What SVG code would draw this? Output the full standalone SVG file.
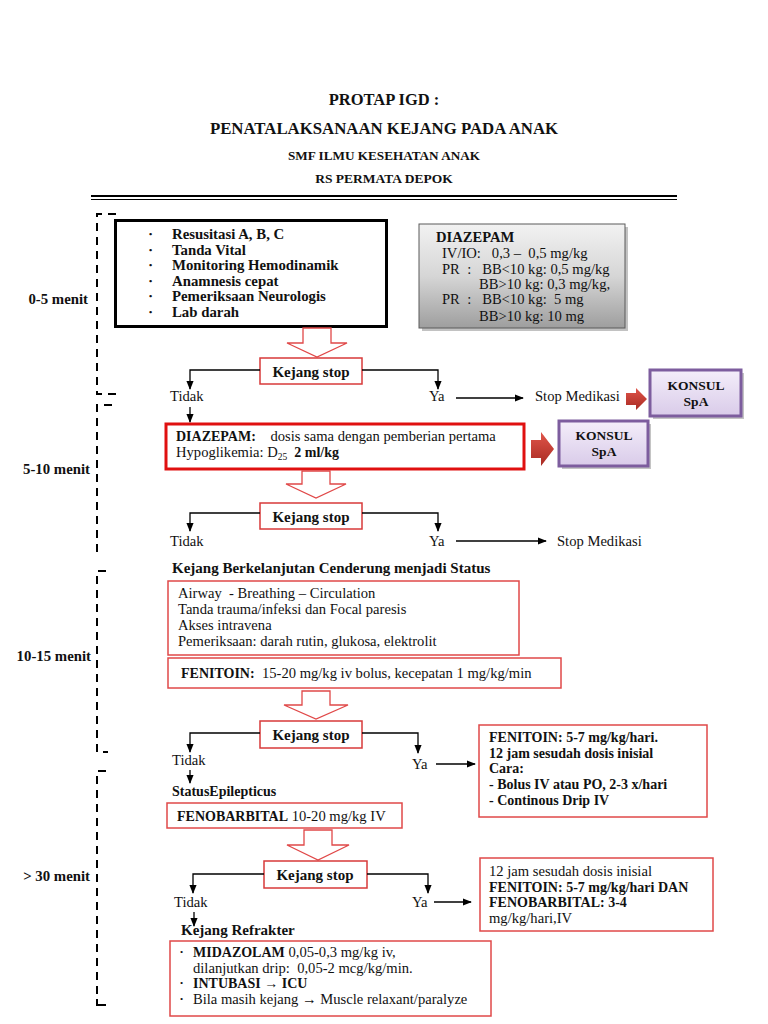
<svg xmlns="http://www.w3.org/2000/svg" width="768" height="1024" viewBox="0 0 768 1024">
<style>
text{font-family:"Liberation Serif","DejaVu Serif",serif;fill:#111;}
.t{font-weight:bold;text-anchor:middle;}
.b{font-weight:bold;}
.r{font-size:14.6px;}
.bd{font-size:14px;font-weight:bold;}
.ksx{font-size:15px;font-weight:bold;text-anchor:middle;}
.lbl{font-size:14.8px;font-weight:bold;text-anchor:end;}
.ln{stroke:#000;stroke-width:1.3;fill:none;}
.dash{stroke:#000;stroke-width:2;fill:none;stroke-dasharray:8,6;}
.hol{fill:#fff;stroke:#e04848;stroke-width:1.3;}
.ks{fill:#fff;stroke:#d83a3a;stroke-width:1.5;}
.rb{fill:#fff;stroke:#e04848;stroke-width:1.5;}
</style>
<defs>
<marker id="ah" viewBox="0 0 10 10" refX="9" refY="5" markerWidth="7" markerHeight="7" orient="auto"><path d="M0,1 L10,5 L0,9 Z" fill="#000"/></marker>
<linearGradient id="gray" x1="0" y1="0" x2="0" y2="1"><stop offset="0" stop-color="#f2f2f2"/><stop offset="0.5" stop-color="#d6d6d6"/><stop offset="1" stop-color="#9e9e9e"/></linearGradient>
<linearGradient id="purp" x1="0" y1="0" x2="0" y2="1"><stop offset="0" stop-color="#f4eefa"/><stop offset="1" stop-color="#d9cbe9"/></linearGradient>
<linearGradient id="red" x1="0" y1="0" x2="0" y2="1"><stop offset="0" stop-color="#e0554a"/><stop offset="1" stop-color="#a82a22"/></linearGradient>
</defs>
<rect width="768" height="1024" fill="#fff"/>

<g id="title">
<text class="t" x="384" y="105" font-size="16.5">PROTAP IGD :</text>
<text class="t" x="384" y="134" font-size="16.8">PENATALAKSANAAN KEJANG PADA ANAK</text>
<text class="t" x="384" y="160" font-size="13.2">SMF ILMU KESEHATAN ANAK</text>
<text class="t" x="384" y="183" font-size="13.5">RS PERMATA DEPOK</text>
<line x1="91" y1="196" x2="677" y2="196" stroke="#000" stroke-width="1.8"/>
<line x1="91" y1="199.5" x2="677" y2="199.5" stroke="#000" stroke-width="1"/>
</g>

<g id="timeline">
<path class="dash" d="M116,214 H97 V394 H116"/>
<path class="dash" d="M112,405 H97 V558"/>
<path class="dash" d="M106,571 H97 V752 H108"/>
<path class="dash" d="M106,771 H97 V998"/>
<path d="M97,999 V1005 H106" stroke="#000" stroke-width="2" fill="none"/>
<text class="lbl" x="88" y="304">0-5 menit</text>
<text class="lbl" x="90" y="474">5-10 menit</text>
<text class="lbl" x="91" y="661">10-15 menit</text>
<text class="lbl" x="90" y="881">&gt; 30 menit</text>
</g>

<g id="box-initial">
<rect x="115.5" y="220.5" width="271" height="106" fill="#fff" stroke="#000" stroke-width="3"/>
<g font-weight="bold" font-size="14.8">
<text x="149" y="237" font-size="9">•</text><text x="172" y="239">Resusitasi A, B, C</text>
<text x="149" y="253" font-size="9">•</text><text x="172" y="255">Tanda Vital</text>
<text x="149" y="268" font-size="9">•</text><text x="172" y="270">Monitoring Hemodinamik</text>
<text x="149" y="284" font-size="9">•</text><text x="172" y="286">Anamnesis cepat</text>
<text x="149" y="299" font-size="9">•</text><text x="172" y="301">Pemeriksaan Neurologis</text>
<text x="149" y="315" font-size="9">•</text><text x="172" y="317">Lab darah</text>
</g>
</g>

<g id="box-diazepam">
<rect x="422" y="227" width="206" height="104" fill="#9a9a9a" opacity="0.6"/>
<rect x="419" y="224" width="206" height="104" fill="url(#gray)" stroke="#5a5a5a" stroke-width="1"/>
<g font-size="14.6">
<text class="b" x="436" y="242">DIAZEPAM</text>
<text x="442" y="258" xml:space="preserve">IV/IO:   0,3 –  0,5 mg/kg</text>
<text x="442" y="274" xml:space="preserve">PR  :   BB&lt;10 kg: 0,5 mg/kg</text>
<text x="479" y="289">BB&gt;10 kg: 0,3 mg/kg,</text>
<text x="442" y="304" xml:space="preserve">PR  :   BB&lt;10 kg:  5 mg</text>
<text x="479" y="321">BB&gt;10 kg: 10 mg</text>
</g>
</g>

<g id="arrow-hollow-1"><path class="hol" d="M303,328 H331 V343 H347 L317,357 L287,343 H303 Z"/></g>
<g id="kejang-stop-1">
<rect class="ks" x="260" y="358" width="102" height="26"/>
<text class="ksx" x="311" y="377">Kejang stop</text>
</g>
<g id="tidak-ya-1" class="r">
<text x="170" y="401">Tidak</text>
<text x="429" y="401">Ya</text>
<text x="535" y="401">Stop Medikasi</text>
</g>
<g id="red-arrow-1"><path d="M626,393 H636 V388 L647,399 L636,410 V405 H626 Z" fill="url(#red)"/></g>
<g id="konsul-1">
<rect x="653" y="373" width="91" height="46" fill="#8a8a8a" opacity="0.5"/>
<rect x="650" y="370" width="91" height="46" fill="url(#purp)" stroke="#7d5d9e" stroke-width="3"/>
<text class="t" font-size="13.5" x="696" y="390">KONSUL</text>
<text class="t" font-size="13.5" x="696" y="406">SpA</text>
</g>

<g id="box-diazepam-2">
<rect x="166" y="424" width="358" height="45" fill="#fff" stroke="#e01010" stroke-width="3"/>
<text class="r" x="176" y="441" xml:space="preserve"><tspan class="b" font-size="14">DIAZEPAM:</tspan>    dosis sama dengan pemberian pertama</text>
<text class="r" x="176" y="457" xml:space="preserve">Hypoglikemia: D<tspan font-size="9.5" dy="3">25</tspan><tspan dy="-3" class="b" font-size="14">  2 ml/kg</tspan></text>
</g>
<g id="red-arrow-2"><path d="M531,440 H541 V432 L554,449 L541,466 V458 H531 Z" fill="url(#red)"/></g>
<g id="konsul-2">
<rect x="562" y="424" width="89" height="45" fill="#8a8a8a" opacity="0.5"/>
<rect x="559" y="421" width="89" height="45" fill="url(#purp)" stroke="#7d5d9e" stroke-width="3"/>
<text class="t" font-size="13.5" x="604" y="440">KONSUL</text>
<text class="t" font-size="13.5" x="604" y="456">SpA</text>
</g>

<g id="arrow-hollow-2"><path class="hol" d="M302,471 H330 V484 H346 L316,498 L286,484 H302 Z"/></g>
<g id="kejang-stop-2">
<rect class="ks" x="260" y="503" width="102" height="26"/>
<text class="ksx" x="311" y="522">Kejang stop</text>
</g>
<g id="tidak-ya-2" class="r">
<text x="170" y="546">Tidak</text>
<text x="429" y="546">Ya</text>
<text x="557" y="546">Stop Medikasi</text>
</g>
<text id="lbl-berkelanjutan" class="b" font-size="15" x="172" y="573">Kejang Berkelanjutan Cenderung menjadi Status</text>

<g id="box-abc">
<rect class="rb" x="168" y="581" width="351" height="74"/>
<g class="r">
<text x="178" y="598" xml:space="preserve">Airway  - Breathing – Circulation</text>
<text x="178" y="614">Tanda trauma/infeksi dan Focal paresis</text>
<text x="178" y="630">Akses intravena</text>
<text x="178" y="646">Pemeriksaan: darah rutin, glukosa, elektrolit</text>
</g>
</g>
<g id="box-fenitoin">
<rect class="rb" x="168" y="658" width="393" height="30"/>
<text class="r" x="181" y="678" xml:space="preserve"><tspan class="b" font-size="14">FENITOIN:</tspan>  15-20 mg/kg iv bolus, kecepatan 1 mg/kg/min</text>
</g>

<g id="arrow-hollow-3"><path class="hol" d="M302,691 H330 V705 H348 L316,719 L284,705 H302 Z"/></g>
<g id="kejang-stop-3">
<rect class="ks" x="260" y="721" width="102" height="27"/>
<text class="ksx" x="311" y="740">Kejang stop</text>
</g>
<g id="tidak-ya-3" class="r">
<text x="172" y="765">Tidak</text>
<text x="412" y="769">Ya</text>
</g>
<g id="box-fenitoin-maint">
<rect class="rb" x="479" y="725" width="228" height="92"/>
<g class="bd">
<text x="489" y="742">FENITOIN: 5-7 mg/kg/hari.</text>
<text x="489" y="758">12 jam sesudah dosis inisial</text>
<text x="489" y="773">Cara:</text>
<text x="489" y="789">- Bolus IV atau PO, 2-3 x/hari</text>
<text x="489" y="805">- Continous Drip IV</text>
</g>
</g>
<text id="lbl-status" class="bd" x="172" y="796">StatusEpilepticus</text>
<g id="box-fenobarbital">
<rect class="rb" x="167" y="803" width="235" height="25"/>
<text class="r" x="177" y="821"><tspan class="b" font-size="14">FENOBARBITAL</tspan> 10-20 mg/kg IV</text>
</g>

<g id="arrow-hollow-4"><path class="hol" d="M304,830 H332 V845 H349 L318,860 L287,845 H304 Z"/></g>
<g id="kejang-stop-4">
<rect class="ks" x="264" y="861" width="103" height="27"/>
<text class="ksx" x="315" y="880">Kejang stop</text>
</g>
<g id="tidak-ya-4" class="r">
<text x="174" y="907">Tidak</text>
<text x="412" y="907">Ya</text>
</g>
<g id="box-fenitoin-feno">
<rect class="rb" x="480" y="858" width="233" height="73"/>
<text class="r" x="489" y="876">12 jam sesudah dosis inisial</text>
<text class="bd" x="489" y="892">FENITOIN: 5-7 mg/kg/hari DAN</text>
<text class="bd" x="489" y="907">FENOBARBITAL: 3-4</text>
<text class="r" x="489" y="923">mg/kg/hari,IV</text>
</g>
<text id="lbl-refrakter" class="b" font-size="15" x="181" y="935">Kejang Refrakter</text>
<g id="box-refrakter">
<rect class="rb" x="170" y="941" width="321" height="75"/>
<text x="180" y="955" font-size="9">•</text><text class="r" x="193" y="957"><tspan class="b" font-size="14">MIDAZOLAM</tspan> 0,05-0,3 mg/kg iv,</text>
<text class="r" x="193" y="973" xml:space="preserve">dilanjutkan drip:  0,05-2 mcg/kg/min.</text>
<text x="180" y="986" font-size="9">•</text><text class="bd" x="193" y="988">INTUBASI → ICU</text>
<text x="180" y="1002" font-size="9">•</text><text class="r" x="193" y="1004">Bila masih kejang → Muscle relaxant/paralyze</text>
</g>

<g id="connectors">
<path class="ln" d="M260,370 H190 V389" marker-end="url(#ah)"/>
<path class="ln" d="M362,370 H438 V389" marker-end="url(#ah)"/>
<path class="ln" d="M456,398 H523" marker-end="url(#ah)"/>
<path class="ln" d="M190,407 V422" marker-end="url(#ah)"/>
<path class="ln" d="M260,513 H190 V531" marker-end="url(#ah)"/>
<path class="ln" d="M362,513 H438 V531" marker-end="url(#ah)"/>
<path class="ln" d="M456,541 H546" marker-end="url(#ah)"/>
<path class="ln" d="M260,733 H190 V752" marker-end="url(#ah)"/>
<path class="ln" d="M362,733 H418 V753" marker-end="url(#ah)"/>
<path class="ln" d="M436,764 H475" marker-end="url(#ah)"/>
<path class="ln" d="M190,770 V783" marker-end="url(#ah)"/>
<path class="ln" d="M264,874 H193 V893" marker-end="url(#ah)"/>
<path class="ln" d="M367,874 H428 V893" marker-end="url(#ah)"/>
<path class="ln" d="M434,902 H471" marker-end="url(#ah)"/>
<path class="ln" d="M194,912 V926" marker-end="url(#ah)"/>
</g>
</svg>
